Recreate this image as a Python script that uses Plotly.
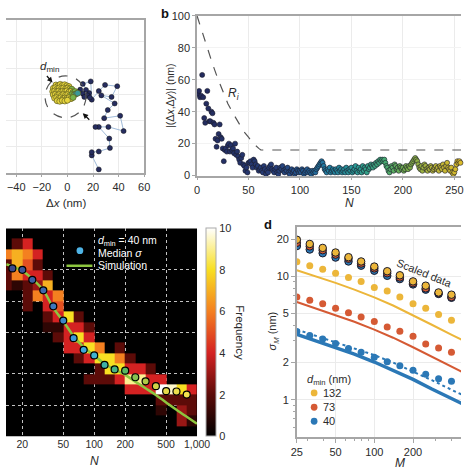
import numpy as np
import plotly.graph_objects as go

W = H = 474
def px(x): return x / W
def py(y): return 1 - y / H

FONT = "Liberation Sans, Arial, sans-serif"
TXT = "#2b2b2b"

# ---------------- panel a : trajectory ----------------
traj_x = [24.5, 19.0, 19.0, 24.5, 33.2, 32.7, 24.5, 21.9, 32.0, 43.9, 41.2, 28.7, 31.5, 36.9, 26.5,
          34.5, 38.9, 29.4, 24.5, 19.0, 18.2, 12.0, 17.0, 14.5, 12.0, 15.7, 13.2, 17.5, 10.0, 8.2]
traj_y = [-57.5, -46.8, -44.3, -43.8, -41.1, -33.9, -25.0, -25.0, -25.0, -28.2, -16.5, -18.3, -12.1, -7.1, -0.9,
          -2.1, 6.1, 7.1, 2.4, -4.2, 9.8, 7.8, 0.9, 3.3, 0.4, -0.9, -2.1, -2.6, 3.5, 1.6]
clus_x = [-9, -7.3, -5.6, -3.9, -2.2, -0.5, 1.2,
          -11, -9.4, -7.8, -6.2, -4.6, -3, -1.4, 0.2, 1.8, 3.4,
          -11.5, -10, -8.4, -6.8, -5.2, -3.6, -2, -0.4, 1.2, 2.8, 4.4, 6,
          -11, -9.4, -7.8, -6.2, -4.6, -3, -1.4, 0.2, 1.8, 3.4, 5, 6.6, 8,
          -10, -8.4, -6.8, -5.2, -3.6, -2, -0.4, 1.2, 2.8, 4.4,
          -8, -6, -4, -2, 0]
clus_y = [7, 6.5, 7.5, 6.8, 7.2, 6.4, 5.8,
          4.5, 4.9, 4.2, 4.8, 4.3, 4.7, 4.1, 4.6, 4.0, 3.8,
          2, 2.4, 1.8, 2.3, 1.7, 2.2, 1.9, 2.5, 1.6, 2.1, 1.5, 2.0,
          -0.5, -0.1, -0.8, -0.3, -0.9, -0.2, -0.7, -0.4, -1, -0.3, -0.6, 0.2, 0.8,
          -3, -2.6, -3.3, -2.8, -3.5, -2.9, -3.2, -2.7, -3.4, -2.5,
          -5, -5.4, -4.8, -5.2, -4.6]
dmin_center = (-1.5, -2.0)
dmin_diam = 32.0

# ---------------- panel b : distance vs N ----------------
dist_b = [51, 53, 49, 50, 63, 49, 36, 33, 45, 53,
          42, 34, 34, 40, 39, 33, 32, 23, 18, 22,
          26, 32, 24, 23, 17, 9, 16, 17, 15, 19,
          20, 15, 19, 16, 17, 14, 20, 13, 15, 12,
          10, 8, 11, 13, 7, 6, 3, 5, 2, 8,
          8, 9, 7, 5, 10, 9, 7, 5, 6, 3,
          4, 5, 3, 2, 6, 4, 1, 3, 2, 5,
          6, 7, 4, 3, 2, 4, 5, 2, 1, 3,
          5, 4, 6, 3, 2, 4, 3, 5, 2, 1,
          3, 4, 2, 3, 1, 2, 4, 3, 2, 3,
          2, 4, 3, 1, 2, 3, 4, 2, 3, 2,
          1, 3, 2, 3, 2, 4, 5, 6, 7, 8,
          9, 8, 6, 4, 3, 2, 4, 3, 5, 2,
          3, 4, 3, 2, 4, 3, 2, 5, 3, 4,
          2, 3, 4, 2, 5, 3, 2, 4, 3, 5,
          2, 3, 4, 6, 3, 2, 5, 3, 4, 2,
          6, 3, 5, 4, 2, 6, 4, 5, 7, 6,
          5, 7, 6, 8, 7, 9, 8, 10, 9, 10,
          9, 10, 8, 6, 5, 3, 2, 4, 6, 5,
          3, 7, 6, 4, 5, 3, 6, 5, 4, 5,
          3, 4, 6, 5, 4, 6, 5, 7, 8, 9,
          10, 11, 10, 9, 7, 5, 4, 6, 3, 5,
          7, 6, 4, 3, 5, 4, 6, 5, 3, 4,
          5, 6, 4, 5, 3, 6, 5, 4, 7, 5,
          3, 6, 8, 5, 4, 3, 5, 2, 1, 2,
          4, 7, 9, 8, 9, 8]
N_b = list(range(1, len(dist_b) + 1))
Ri_N = [0, 5, 10, 15, 20, 25, 30, 35, 40, 45, 50, 55, 60, 62, 300]
Ri_val = [100, 90, 79, 70, 61, 53, 45, 39, 33, 28, 24, 20, 17, 16, 16]

# ---------------- panel c : heatmap ----------------
heat_z = [  # rows top (sigma 40-50 nm) -> bottom (0.5-0.63 nm), 19 columns of 0.1 decade in N
    [0, 0, 0, 0, 0, 0, 0, 0, 0, 0, 0, 0, 0, 0, 0, 0, 0, 0, 0],
    [0, 2, 4, 0, 0, 0, 0, 0, 0, 0, 0, 0, 0, 0, 0, 0, 0, 0, 0],
    [6, 7, 6, 4, 0, 0, 0, 0, 0, 0, 0, 0, 0, 0, 0, 0, 0, 0, 0],
    [2, 7, 5, 2, 0, 0, 0, 0, 0, 0, 0, 0, 0, 0, 0, 0, 0, 0, 0],
    [2, 6, 4, 4, 2, 0, 0, 0, 0, 0, 0, 0, 0, 0, 0, 0, 0, 0, 0],
    [2, 1, 2, 3, 7, 0, 0, 0, 0, 0, 0, 0, 0, 0, 0, 0, 0, 0, 0],
    [0, 0, 2, 6, 4, 6, 0, 0, 0, 0, 0, 0, 0, 0, 0, 0, 0, 0, 0],
    [0, 0, 2, 0, 4, 5, 0, 0, 0, 0, 0, 0, 0, 0, 0, 0, 0, 0, 0],
    [0, 0, 0, 0, 2, 4, 8, 2, 0, 0, 0, 0, 0, 0, 0, 0, 0, 0, 0],
    [0, 0, 0, 0, 1, 1, 4, 4, 2, 0, 0, 0, 0, 0, 0, 0, 0, 0, 0],
    [0, 0, 0, 0, 0, 2, 4, 8, 4, 0, 0, 0, 0, 0, 0, 0, 0, 0, 0],
    [0, 0, 0, 0, 0, 0, 4, 4, 8, 6, 0, 2, 0, 0, 0, 0, 0, 0, 0],
    [0, 0, 0, 0, 0, 0, 0, 2, 4, 8, 8, 6, 2, 0, 0, 0, 0, 0, 0],
    [0, 0, 0, 0, 0, 0, 0, 0, 0, 2, 8, 8, 4, 4, 2, 0, 0, 0, 0],
    [0, 0, 0, 0, 0, 0, 0, 0, 2, 2, 2, 4, 9, 9, 4, 4, 0, 0, 0],
    [0, 0, 0, 0, 0, 0, 0, 0, 0, 0, 0, 0, 4, 4, 4, 10, 9.5, 8, 4],
    [0, 0, 0, 0, 0, 0, 0, 0, 0, 0, 0, 0, 0, 0, 0, 2, 2, 2, 2],
    [0, 0, 0, 0, 0, 0, 0, 0, 0, 0, 0, 0, 0, 0, 0, 1, 0, 3, 2],
    [0, 0, 0, 0, 0, 0, 0, 0, 0, 0, 0, 0, 0, 0, 0, 0, 0, 3, 1],
    [0, 0, 0, 0, 0, 0, 0, 0, 0, 0, 0, 0, 0, 0, 0, 0, 0, 0, 0],
]
heat_N_edges = 10 ** (1.1 + 0.1 * np.arange(20))
heat_s_edges = 10 ** (-0.3 + 0.1 * np.arange(21))
med_N = [16, 20, 25, 32, 40, 50, 63, 79, 100, 126, 158, 200, 251, 316, 398, 501, 631, 794]
med_sigma = [20.6, 20.0, 16.0, 12.7, 8.9, 6.5, 4.4, 3.4, 3.0, 2.43, 2.2, 2.14, 1.85, 1.69, 1.52, 1.36, 1.35, 1.26]
sim_N = [14, 20, 25, 32, 40, 50, 63, 79, 100, 126, 158, 200, 251, 316, 398, 501, 631, 794, 1000]
sim_sigma = [22.6, 19.5, 16.3, 12.7, 8.6, 6.4, 4.6, 3.6, 3.0, 2.5, 2.2, 1.95, 1.68, 1.45, 1.25, 1.06, 0.9, 0.77, 0.66]

# ---------------- panel d : sigma_M vs M ----------------
M = [25, 31.5, 39.7, 50, 63, 79, 100, 126, 158, 200, 251, 316, 398]
sig_132 = [13.1, 12.2, 11.4, 10.6, 9.8, 9.1, 8.1, 7.6, 6.8, 6.0, 5.5, 4.9, 4.4]
sig_73 = [6.8, 6.4, 6.0, 5.5, 5.06, 4.67, 4.31, 3.89, 3.59, 3.26, 2.83, 2.63, 2.42]
sig_40 = [3.57, 3.32, 3.1, 2.85, 2.6, 2.42, 2.21, 2.03, 1.88, 1.73, 1.61, 1.48, 1.41]
scaled_132 = [19.8, 18.3, 17.0, 15.6, 14.3, 13.2, 12.0, 11.0, 10.2, 9.1, 8.4, 7.4, 7.1]
scaled_73 = [18.7, 17.5, 16.3, 15.0, 13.9, 12.7, 11.6, 10.6, 9.8, 8.8, 8.0, 7.3, 6.8]
scaled_40 = [17.6, 16.5, 15.4, 14.2, 13.2, 12.2, 11.1, 10.1, 9.5, 8.6, 7.8, 7.2, 6.7]
M_line = [25, 35, 50, 70, 100, 140, 200, 280, 400, 480]
line_132 = [11.2, 10.0, 8.85, 7.8, 6.75, 5.8, 4.85, 4.05, 3.35, 3.05]
line_73 = [6.2, 5.5, 4.85, 4.28, 3.7, 3.18, 2.66, 2.22, 1.84, 1.68]
line_40 = [3.38, 3.0, 2.66, 2.34, 2.02, 1.74, 1.46, 1.22, 1.02, 0.93]
line_40_scaled = [3.7, 3.3, 2.95, 2.62, 2.3, 2.0, 1.7, 1.44, 1.2, 1.1]

GOLD, RED, BLUE = "#ecb63a", "#d55a34", "#2b78b6"

fig = go.Figure()

# ---- a
fig.add_trace(go.Scatter(x=traj_x, y=traj_y, mode="lines", line=dict(color="#9fbad8", width=1),
                         xaxis="x", yaxis="y", hoverinfo="skip"))
fig.add_trace(go.Scatter(x=traj_x, y=traj_y, mode="markers",
                         marker=dict(size=5, color="#262d60", line=dict(color="#111", width=0.5)),
                         xaxis="x", yaxis="y"))
cl_colors = ["#3a9a9a" if x > 6 else ("#78b44a" if x > 3 else "#e6d43c") for x in clus_x]
fig.add_trace(go.Scatter(x=clus_x, y=clus_y, mode="markers",
                         marker=dict(size=6, color=cl_colors, line=dict(color="#5e5c1c", width=0.7)),
                         xaxis="x", yaxis="y"))

# ---- b
b_scale = [[0, "#232a5c"], [0.3, "#263d78"], [0.42, "#245e94"], [0.5, "#2180a2"], [0.6, "#2a9a96"],
           [0.7, "#3fa877"], [0.8, "#7ab04a"], [0.9, "#b8b43a"], [1, "#dcbc2a"]]
fig.add_trace(go.Scatter(x=Ri_N, y=Ri_val, mode="lines", line=dict(color="#555", width=1.2, dash="dash"),
                         xaxis="x2", yaxis="y2"))
fig.add_trace(go.Scatter(x=N_b, y=dist_b, mode="markers", cliponaxis=False,
                         marker=dict(size=5, color=N_b, colorscale=b_scale, cmin=0, cmax=256,
                                     line=dict(color="#1c1c2c", width=0.6)),
                         xaxis="x2", yaxis="y2"))

# ---- c
hot = [[0, "#000000"], [0.2, "#5c0b08"], [0.4, "#d42222"], [0.6, "#f48020"], [0.8, "#f8df22"], [1, "#ffffff"]]
z_plot = [[None if v == 0 else v for v in row] for row in heat_z[::-1]]
fig.add_trace(go.Heatmap(x=heat_N_edges, y=heat_s_edges, z=z_plot, zmin=0, zmax=10, colorscale=hot,
                         xaxis="x3", yaxis="y3",
                         colorbar=dict(x=px(208), xanchor="left", y=py(228.2), yanchor="top",
                                       len=213.3 / H, lenmode="fraction", thickness=10, thicknessmode="pixels",
                                       xpad=0, ypad=0, outlinewidth=1, outlinecolor="#aaa",
                                       tickvals=[0, 2, 4, 6, 8, 10], ticks="",
                                       tickfont=dict(family=FONT, size=11, color=TXT))))
fig.add_trace(go.Scatter(x=sim_N, y=sim_sigma, mode="lines", line=dict(color="#8dc63f", width=2.5, shape="spline"),
                         xaxis="x3", yaxis="y3"))
med_scale = [[0, "#3b4a8c"], [0.2, "#3d6cb4"], [0.35, "#3b98d6"], [0.45, "#3fb2dc"], [0.55, "#3cb09a"],
             [0.65, "#5ab860"], [0.75, "#a6c844"], [0.85, "#e2d648"], [1, "#f2e24e"]]
fig.add_trace(go.Scatter(x=med_N, y=med_sigma, mode="markers",
                         marker=dict(size=7, color=np.log10(med_N), colorscale=med_scale, cmin=1.2, cmax=2.9,
                                     line=dict(color="black", width=1.2)),
                         xaxis="x3", yaxis="y3"))

# ---- d
for ys, col, w, dash in [(line_132, GOLD, 2, "solid"), (line_73, RED, 2, "solid"),
                         (line_40, BLUE, 3.5, "solid"), (line_40_scaled, BLUE, 2, "dot")]:
    fig.add_trace(go.Scatter(x=M_line, y=ys, mode="lines", line=dict(color=col, width=w, dash=dash),
                             xaxis="x4", yaxis="y4"))
for ys, col in [(sig_132, GOLD), (sig_73, RED), (sig_40, BLUE)]:
    fig.add_trace(go.Scatter(x=M, y=ys, mode="markers", marker=dict(size=7, color=col),
                             xaxis="x4", yaxis="y4"))
for ys, col in [(scaled_40, BLUE), (scaled_73, RED), (scaled_132, GOLD)]:
    fig.add_trace(go.Scatter(x=M, y=ys, mode="markers",
                             marker=dict(size=7.5, color=col, line=dict(color="#1a1a2a", width=1)),
                             xaxis="x4", yaxis="y4"))

tickfont = dict(family=FONT, size=11, color=TXT)
LINE = "#a6a6a6"
GRID = "#ebebeb"

fig.update_layout(
    width=W, height=H, autosize=False, margin=dict(l=0, r=0, t=0, b=0),
    paper_bgcolor="white", plot_bgcolor="white", showlegend=False,
    font=dict(family=FONT, size=11, color=TXT),
    xaxis=dict(domain=[0, px(144)], range=[-48, 60], tickvals=[-40, -20, 0, 20, 40, 60],
               ticktext=["\u221240", "\u221220", "0", "20", "40", "60"], showgrid=True, gridcolor=GRID,
               showline=True, linecolor=LINE, linewidth=1.5, mirror=True, ticks="outside", ticklen=3,
               tickcolor=LINE, zeroline=False, anchor="y", tickfont=tickfont),
    yaxis=dict(domain=[py(171), py(14)], range=[-60, 57], tickvals=[-40, -20, 0, 20, 40], showticklabels=False,
               side="right", showline=True, linecolor=LINE, linewidth=1.5, showgrid=True, gridcolor=GRID,
               zeroline=False, anchor="x", ticks=""),
    xaxis2=dict(domain=[px(199), 1], range=[0, 256.5], tickvals=[0, 50, 100, 150, 200, 250],
                showgrid=True, gridcolor=GRID, showline=True, linecolor=LINE, linewidth=1.5, mirror=True,
                ticks="outside", ticklen=3, tickcolor=LINE, zeroline=False, anchor="y2", tickfont=tickfont),
    yaxis2=dict(domain=[py(174), py(10)], range=[0, 100], tickvals=[0, 20, 40, 60, 80, 100],
                showgrid=True, gridcolor="#f3f3f3", showline=True, linecolor=LINE, linewidth=1.5,
                ticks="outside", ticklen=3, tickcolor=LINE, zeroline=False, anchor="x2", tickfont=tickfont),
    xaxis3=dict(type="log", domain=[0, px(199)], range=[np.log10(13.87), 3.0],
                tickvals=[20, 50, 100, 200, 500, 1000], ticktext=["20", "50", "100", "200", "500", "1,000"],
                showgrid=True, gridcolor="rgba(215,215,215,0.9)", griddash="dot", gridwidth=1,
                showline=False, ticks="", zeroline=False, anchor="y3",
                tickfont=dict(family=FONT, size=10.5, color=TXT)),
    yaxis3=dict(type="log", domain=[py(441.5), py(228.2)], range=[np.log10(0.5), np.log10(50)],
                tickvals=[1, 2, 5, 10, 20, 50], showticklabels=False, showgrid=True,
                gridcolor="rgba(215,215,215,0.9)", griddash="dot", gridwidth=1, showline=False,
                ticks="", zeroline=False, anchor="x3"),
    xaxis4=dict(type="log", domain=[px(303), 1], range=[np.log10(25), 2.674],
                tickvals=[25, 50, 100, 200, 500], showgrid=True, gridcolor=GRID,
                showline=True, linecolor=LINE, linewidth=1.5, mirror=True, ticks="outside", ticklen=4,
                tickcolor=LINE, zeroline=False, anchor="y4", tickfont=tickfont,
                minor=dict(tickvals=[30, 40, 60, 70, 80, 90, 300, 400], ticks="outside", ticklen=2,
                           tickcolor=LINE, showgrid=False)),
    yaxis4=dict(type="log", domain=[py(442), py(227)], range=[np.log10(0.5), np.log10(25)],
                tickvals=[1, 2, 5, 10, 20], showgrid=True, gridcolor=GRID,
                showline=True, linecolor=LINE, linewidth=1.5, ticks="outside", ticklen=4,
                tickcolor=LINE, zeroline=False, anchor="x4", tickfont=tickfont,
                minor=dict(tickvals=[0.6, 0.7, 0.8, 0.9, 3, 4, 6, 7, 8, 9], ticks="outside", ticklen=2,
                           tickcolor=LINE, showgrid=False)),
)

shapes = []
# black background for panel c
shapes.append(dict(type="rect", xref="x3 domain", yref="y3 domain", x0=0, x1=1, y0=0, y1=1,
                   fillcolor="black", line=dict(width=0), layer="below"))
# d_min circle in panel a
r = dmin_diam / 2
shapes.append(dict(type="circle", xref="x", yref="y", x0=dmin_center[0] - r, x1=dmin_center[0] + r,
                   y0=dmin_center[1] - r, y1=dmin_center[1] + r, line=dict(color="#555", width=1.2, dash="dash")))
# legend swatches panel c
shapes.append(dict(type="circle", xref="paper", yref="paper", x0=px(73.5), x1=px(80.5), y0=py(254.5), y1=py(247.5),
                   fillcolor="#4fb4e6", line=dict(color="#4fb4e6", width=0)))
shapes.append(dict(type="line", xref="paper", yref="paper", x0=px(63), x1=px(90), y0=py(266.5), y1=py(266.5),
                   line=dict(color="#8dc63f", width=2.5)))
# legend swatches panel d
for yy, col in [(397, GOLD), (411.7, RED), (426, BLUE)]:
    shapes.append(dict(type="circle", xref="paper", yref="paper", x0=px(317.5), x1=px(324.5),
                       y0=py(yy + 3.5), y1=py(yy - 3.5), fillcolor=col, line=dict(width=0)))
fig.update_layout(shapes=shapes)

def ann(x, y, text, size=11, color=TXT, angle=0, xanchor="center", **kw):
    return dict(x=px(x), y=py(y), xref="paper", yref="paper", text=text, showarrow=False,
                font=dict(family=FONT, size=size, color=color), textangle=angle,
                xanchor=xanchor, yanchor="middle", **kw)

anns = [
    ann(166, 8, "<b>b</b>", size=13, color="#111"),
    ann(273, 224, "<b>d</b>", size=13, color="#111"),
    ann(63, 202, "\u0394<i>x</i> (nm)", size=11.5),
    ann(170, 92, "|(\u0394<i>x</i>,\u0394<i>y</i>)| (nm)", size=10.5, angle=-90),
    ann(358, 202, "<i>N</i>", size=12),
    ann(92, 467, "<i>N</i>", size=12),
    ann(410, 469, "<i>M</i>", size=12),
    ann(278, 333, "<i>\u03c3<sub>M</sub></i> (nm)", size=11, angle=-90),
    ann(244, 335, "Frequency", size=11.5, angle=90),
    ann(436, 274, "Scaled data", size=11, angle=22),
    ann(238, 90, "<i>R<sub>i</sub></i>", size=12),
    ann(45, 63, "<i>d</i><sub>min</sub>", size=11.5),
    ann(94, 241.5, "<i>d</i><sub>min</sub> = 40 nm", size=10.5, color="white", xanchor="left"),
    ann(94, 253.5, "Median <i>\u03c3</i>", size=10.5, color="white", xanchor="left"),
    ann(94, 266, "Simulation", size=10.5, color="white", xanchor="left"),
    ann(311, 383.5, "<i>d</i><sub>min</sub> (nm)", size=11, xanchor="left"),
    ann(328, 397, "132", size=11, xanchor="left"),
    ann(328, 411.7, "73", size=11, xanchor="left"),
    ann(328, 426, "40", size=11, xanchor="left"),
]
# d_min arrows in panel a
anns.append(dict(x=px(48.5), y=py(78.5), xref="paper", yref="paper", text="", showarrow=True,
                 ax=-7, ay=-8, arrowhead=2, arrowsize=0.9, arrowwidth=1.2, arrowcolor="#111"))
anns.append(dict(x=px(80), y=py(110), xref="paper", yref="paper", text="", showarrow=True,
                 ax=8, ay=8, arrowhead=2, arrowsize=0.9, arrowwidth=1.2, arrowcolor="#111"))
fig.update_layout(annotations=anns)

fig.write_html("out.html")
